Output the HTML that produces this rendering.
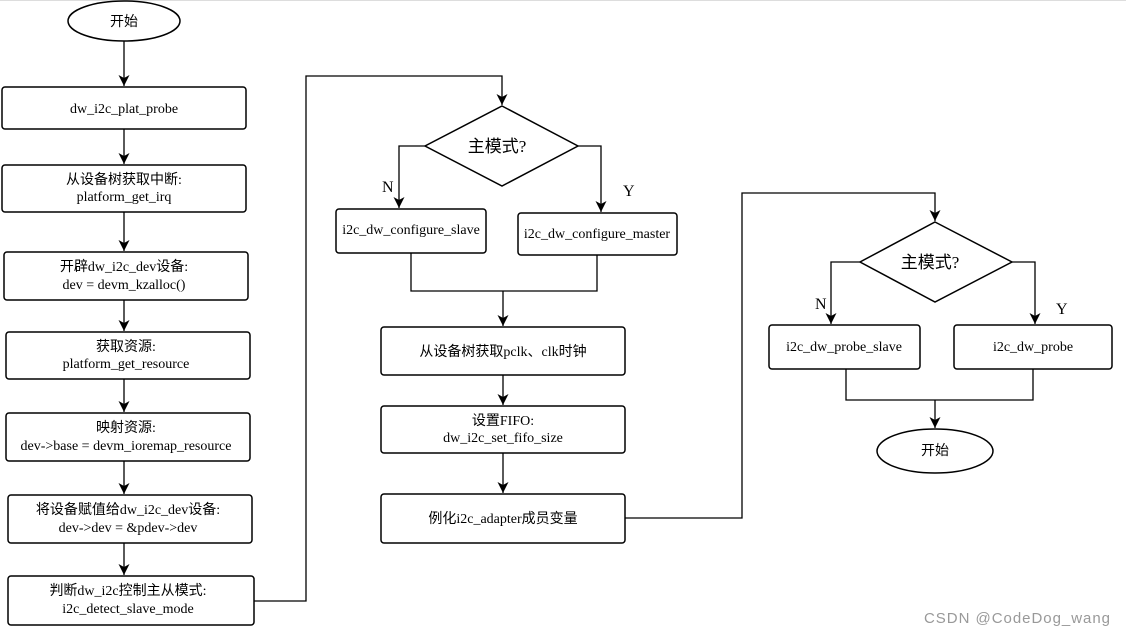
<!DOCTYPE html>
<html><head><meta charset="utf-8"><style>
html,body{margin:0;padding:0;background:#fff;}
svg text{font-family:"Liberation Serif","Noto Sans CJK SC",serif;font-size:14px;fill:#000;}
</style></head><body>
<svg width="1126" height="637" viewBox="0 0 1126 637" xmlns="http://www.w3.org/2000/svg">
<defs><marker id="a" markerWidth="12" markerHeight="12" refX="11" refY="6" orient="auto" markerUnits="userSpaceOnUse"><path d="M0,0.5 L11,6 L0,11.5 L3,6 Z" fill="#000"/></marker></defs>
<line x1="0" y1="0.5" x2="1126" y2="0.5" stroke="#ddd"/>
<g fill="none" stroke="#000" stroke-width="1.5">
<ellipse cx="124" cy="21" rx="56" ry="20" fill="#fff"/>
<rect x="2" y="87" width="244" height="42" rx="3"/>
<rect x="2" y="165" width="244" height="47" rx="3"/>
<rect x="4" y="252" width="244" height="48" rx="3"/>
<rect x="6" y="332" width="244" height="47" rx="3"/>
<rect x="6" y="413" width="244" height="48" rx="3"/>
<rect x="8" y="495" width="244" height="48" rx="3"/>
<rect x="8" y="576" width="246" height="49" rx="3"/>
<polygon points="502,106 578,146 502,186 425,146"/>
<rect x="336" y="209" width="150" height="44" rx="3"/>
<rect x="518" y="213" width="159" height="42" rx="3"/>
<rect x="381" y="327" width="244" height="48" rx="3"/>
<rect x="381" y="406" width="244" height="47" rx="3"/>
<rect x="381" y="494" width="244" height="49" rx="3"/>
<polygon points="935,222 1012,262 935,302 860,262"/>
<rect x="769" y="325" width="151" height="44" rx="3"/>
<rect x="954" y="325" width="158" height="44" rx="3"/>
<ellipse cx="935" cy="451" rx="58" ry="22"/>
</g>
<g fill="none" stroke="#000" stroke-width="1.3">
<path d="M124,41 V86" marker-end="url(#a)"/>
<path d="M124,129 V164" marker-end="url(#a)"/>
<path d="M124,212 V251" marker-end="url(#a)"/>
<path d="M124,300 V331" marker-end="url(#a)"/>
<path d="M124,379 V412" marker-end="url(#a)"/>
<path d="M124,461 V494" marker-end="url(#a)"/>
<path d="M124,543 V575" marker-end="url(#a)"/>
<path d="M254,601 H306 V76 H502 V105" marker-end="url(#a)"/>
<path d="M425,146 H399 V208" marker-end="url(#a)"/>
<path d="M578,146 H601 V212" marker-end="url(#a)"/>
<path d="M411,253 V291 H597 V255"/>
<path d="M503,291 V326" marker-end="url(#a)"/>
<path d="M503,375 V405" marker-end="url(#a)"/>
<path d="M503,453 V493" marker-end="url(#a)"/>
<path d="M625,518 H742 V193 H935 V221" marker-end="url(#a)"/>
<path d="M860,262 H831 V324" marker-end="url(#a)"/>
<path d="M1012,262 H1035 V324" marker-end="url(#a)"/>
<path d="M846,369 V400 H1033 V369"/>
<path d="M935,400 V428" marker-end="url(#a)"/>
</g>
<g text-anchor="middle">
<text x="124" y="26">开始</text>
<text x="124" y="113">dw_i2c_plat_probe</text>
<text x="124" y="184">从设备树获取中断:</text>
<text x="124" y="201">platform_get_irq</text>
<text x="124" y="271">开辟dw_i2c_dev设备:</text>
<text x="124" y="289">dev = devm_kzalloc()</text>
<text x="126" y="351">获取资源:</text>
<text x="126" y="368">platform_get_resource</text>
<text x="126" y="432">映射资源:</text>
<text x="126" y="450">dev-&gt;base = devm_ioremap_resource</text>
<text x="128" y="514">将设备赋值给dw_i2c_dev设备:</text>
<text x="128" y="532">dev-&gt;dev = &amp;pdev-&gt;dev</text>
<text x="128" y="595">判断dw_i2c控制主从模式:</text>
<text x="128" y="613">i2c_detect_slave_mode</text>
<text x="497" y="152" style="font-size:17px">主模式?</text>
<text x="411" y="234">i2c_dw_configure_slave</text>
<text x="597" y="238">i2c_dw_configure_master</text>
<text x="503" y="356">从设备树获取pclk、clk时钟</text>
<text x="503" y="425">设置FIFO:</text>
<text x="503" y="442">dw_i2c_set_fifo_size</text>
<text x="503" y="523">例化i2c_adapter成员变量</text>
<text x="930" y="268" style="font-size:17px">主模式?</text>
<text x="844" y="351">i2c_dw_probe_slave</text>
<text x="1033" y="351">i2c_dw_probe</text>
<text x="935" y="455">开始</text>
</g>
<text x="382" y="192" style="font-size:16px">N</text>
<text x="623" y="196" style="font-size:16px">Y</text>
<text x="815" y="309" style="font-size:16px">N</text>
<text x="1056" y="314" style="font-size:16px">Y</text>
<text x="924" y="623" textLength="186" style="font-family:'Liberation Sans',sans-serif;font-size:15px;fill:#999">CSDN @CodeDog_wang</text>
</svg>
</body></html>
